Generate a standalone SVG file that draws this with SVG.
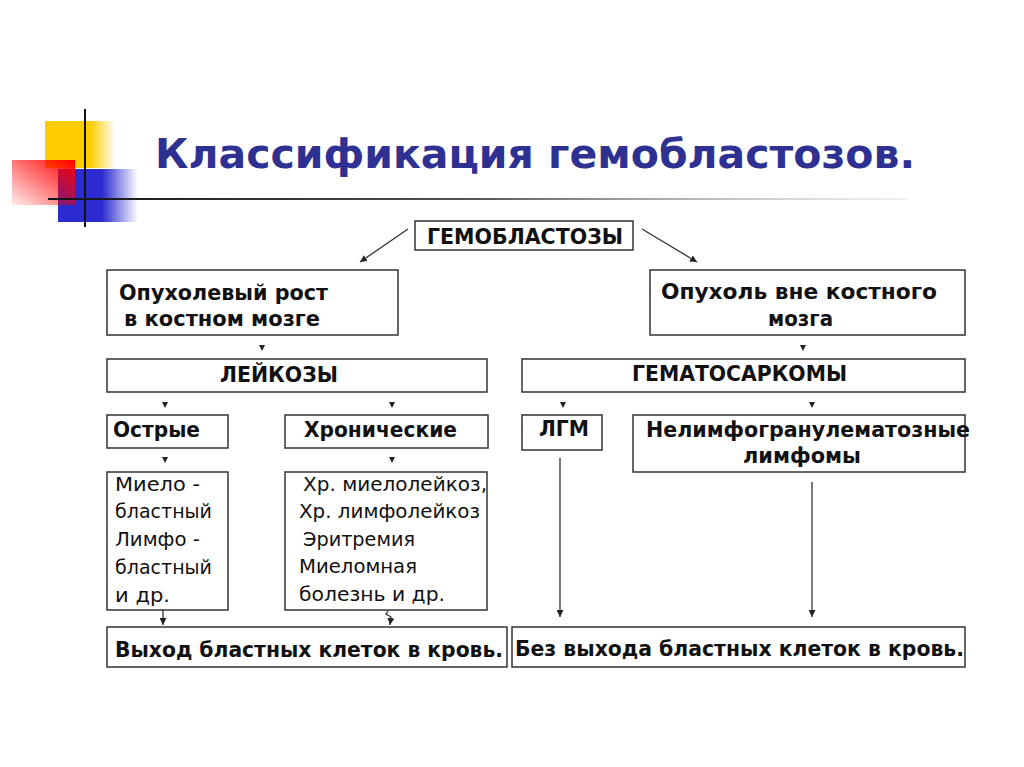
<svg xmlns="http://www.w3.org/2000/svg" width="1024" height="767" viewBox="0 0 1024 767">
<style>
.box{fill:#fff;stroke:#333;stroke-width:1.5}
.b{font-family:"DejaVu Sans","Verdana",sans-serif;font-weight:bold;font-size:21px;fill:#111}
.r{font-family:"DejaVu Sans","Verdana",sans-serif;font-size:19px;fill:#111}
.title{font-family:"DejaVu Sans","Verdana",sans-serif;font-weight:bold;font-size:41px;fill:#2E3192}
.ln{stroke:#333;stroke-width:1.3;fill:none}
.tri{fill:#222}
</style>
<defs>
<linearGradient id="gy" x1="0" y1="0" x2="1" y2="0"><stop offset="0" stop-color="#FFCC00"/><stop offset="0.65" stop-color="#FFCC00"/><stop offset="1" stop-color="#FFCC00" stop-opacity="0"/></linearGradient>
<linearGradient id="gb" x1="0" y1="0" x2="1" y2="0"><stop offset="0" stop-color="#2B2BD0"/><stop offset="0.55" stop-color="#2B2BD0"/><stop offset="1" stop-color="#2B2BD0" stop-opacity="0"/></linearGradient>
<linearGradient id="gr" x1="1" y1="0" x2="0" y2="1"><stop offset="0" stop-color="#FF0000"/><stop offset="1" stop-color="#FF0000" stop-opacity="0.08"/></linearGradient>
<linearGradient id="gl" x1="0" y1="0" x2="1" y2="0"><stop offset="0" stop-color="#111"/><stop offset="0.5" stop-color="#555"/><stop offset="1" stop-color="#ccc" stop-opacity="0.3"/></linearGradient>
<marker id="ah" viewBox="0 0 10 10" refX="10" refY="5" markerWidth="7" markerHeight="7" orient="auto" markerUnits="userSpaceOnUse"><path d="M0,0 L10,5 L0,10 z" fill="#222"/></marker>
</defs>
<rect width="1024" height="767" fill="#fff"/>
<g id="decor">
<rect x="45" y="121" width="70" height="47" fill="url(#gy)"/>
<rect x="58" y="169" width="80" height="53" fill="url(#gb)"/>
<rect x="12" y="160" width="63" height="45" fill="url(#gr)"/>
<line x1="85" y1="109" x2="85" y2="227" stroke="#111" stroke-width="2"/>
<rect x="48" y="198" width="860" height="2" fill="url(#gl)"/>
</g>
<text class="title" x="155" y="168" textLength="760" lengthAdjust="spacingAndGlyphs">Классификация гемобластозов.</text>
<g id="connectors">
<line class="ln" x1="408" y1="229" x2="360" y2="262" marker-end="url(#ah)"/>
<line class="ln" x1="642" y1="229" x2="697" y2="262" marker-end="url(#ah)"/>
<path class="tri" d="M259,345 L265,345 L262,351 z"/>
<path class="tri" d="M800,345 L806,345 L803,351 z"/>
<path class="tri" d="M162,402 L168,402 L165,408 z"/>
<path class="tri" d="M389,402 L395,402 L392,408 z"/>
<path class="tri" d="M560,402 L566,402 L563,408 z"/>
<path class="tri" d="M809,402 L815,402 L812,408 z"/>
<path class="tri" d="M162,457 L168,457 L165,463 z"/>
<path class="tri" d="M389,457 L395,457 L392,463 z"/>
<line class="ln" x1="163" y1="610" x2="163" y2="625" marker-end="url(#ah)"/>
<polyline class="ln" points="388,611 386,614 391,617 390,625" marker-end="url(#ah)"/>
<line class="ln" x1="560" y1="458" x2="560" y2="617" marker-end="url(#ah)"/>
<line class="ln" x1="812" y1="482" x2="812" y2="617" marker-end="url(#ah)"/>
</g>
<g id="n-gemoblastozy">
<rect class="box" x="415" y="221" width="218" height="29"/>
<text class="b" x="427" y="244" textLength="196" lengthAdjust="spacingAndGlyphs">ГЕМОБЛАСТОЗЫ</text>
</g>
<g id="n-opuh-rost">
<rect class="box" x="107" y="270" width="291" height="65"/>
<text class="b" x="119" y="300" textLength="209" lengthAdjust="spacingAndGlyphs">Опухолевый рост</text>
<text class="b" x="124" y="326" textLength="196" lengthAdjust="spacingAndGlyphs">в костном мозге</text>
</g>
<g id="n-opuh-vne">
<rect class="box" x="650" y="270" width="315" height="65"/>
<text class="b" x="661" y="299" textLength="276" lengthAdjust="spacingAndGlyphs">Опухоль  вне  костного</text>
<text class="b" x="768" y="326" textLength="65" lengthAdjust="spacingAndGlyphs">мозга</text>
</g>
<g id="n-leikozy">
<rect class="box" x="107" y="359" width="380" height="33"/>
<text class="b" x="220" y="382" textLength="118" lengthAdjust="spacingAndGlyphs">ЛЕЙКОЗЫ</text>
</g>
<g id="n-gematosarkomy">
<rect class="box" x="522" y="359" width="443" height="33"/>
<text class="b" x="632" y="381" textLength="215" lengthAdjust="spacingAndGlyphs">ГЕМАТОСАРКОМЫ</text>
</g>
<g id="n-ostrye">
<rect class="box" x="107" y="415" width="121" height="33"/>
<text class="b" x="113" y="437" textLength="87" lengthAdjust="spacingAndGlyphs">Острые</text>
</g>
<g id="n-hronicheskie">
<rect class="box" x="285" y="415" width="203" height="33"/>
<text class="b" x="304" y="437" textLength="153" lengthAdjust="spacingAndGlyphs">Хронические</text>
</g>
<g id="n-lgm">
<rect class="box" x="522" y="415" width="80" height="35"/>
<text class="b" x="539" y="436" textLength="50" lengthAdjust="spacingAndGlyphs">ЛГМ</text>
</g>
<g id="n-nelimfo">
<rect class="box" x="633" y="415" width="332" height="57"/>
<text class="b" x="646" y="437" textLength="324" lengthAdjust="spacingAndGlyphs">Нелимфогранулематозные</text>
<text class="b" x="743" y="463" textLength="118" lengthAdjust="spacingAndGlyphs">лимфомы</text>
</g>
<g id="n-mielo">
<rect class="box" x="107" y="472" width="121" height="138"/>
<text class="r" x="115" y="491" textLength="85" lengthAdjust="spacingAndGlyphs">Миело -</text>
<text class="r" x="115" y="518" textLength="97" lengthAdjust="spacingAndGlyphs">бластный</text>
<text class="r" x="115" y="546" textLength="85" lengthAdjust="spacingAndGlyphs">Лимфо -</text>
<text class="r" x="115" y="574" textLength="97" lengthAdjust="spacingAndGlyphs">бластный</text>
<text class="r" x="115" y="602" textLength="55" lengthAdjust="spacingAndGlyphs">и  др.</text>
</g>
<g id="n-hr">
<rect class="box" x="285" y="472" width="202" height="138"/>
<text class="r" x="303" y="491" textLength="184" lengthAdjust="spacingAndGlyphs">Хр. миелолейкоз,</text>
<text class="r" x="299" y="518" textLength="181" lengthAdjust="spacingAndGlyphs">Хр. лимфолейкоз</text>
<text class="r" x="303" y="546" textLength="112" lengthAdjust="spacingAndGlyphs">Эритремия</text>
<text class="r" x="299" y="573" textLength="118" lengthAdjust="spacingAndGlyphs">Миеломная</text>
<text class="r" x="299" y="601" textLength="146" lengthAdjust="spacingAndGlyphs">болезнь и др.</text>
</g>
<g id="n-vyhod">
<rect class="box" x="107" y="627" width="400" height="40"/>
<text class="b" x="115" y="657" textLength="388" lengthAdjust="spacingAndGlyphs">Выход бластных клеток в кровь.</text>
</g>
<g id="n-bez">
<rect class="box" x="512" y="627" width="453" height="40"/>
<text class="b" x="515" y="656" textLength="449" lengthAdjust="spacingAndGlyphs">Без выхода бластных клеток в кровь.</text>
</g>
</svg>
